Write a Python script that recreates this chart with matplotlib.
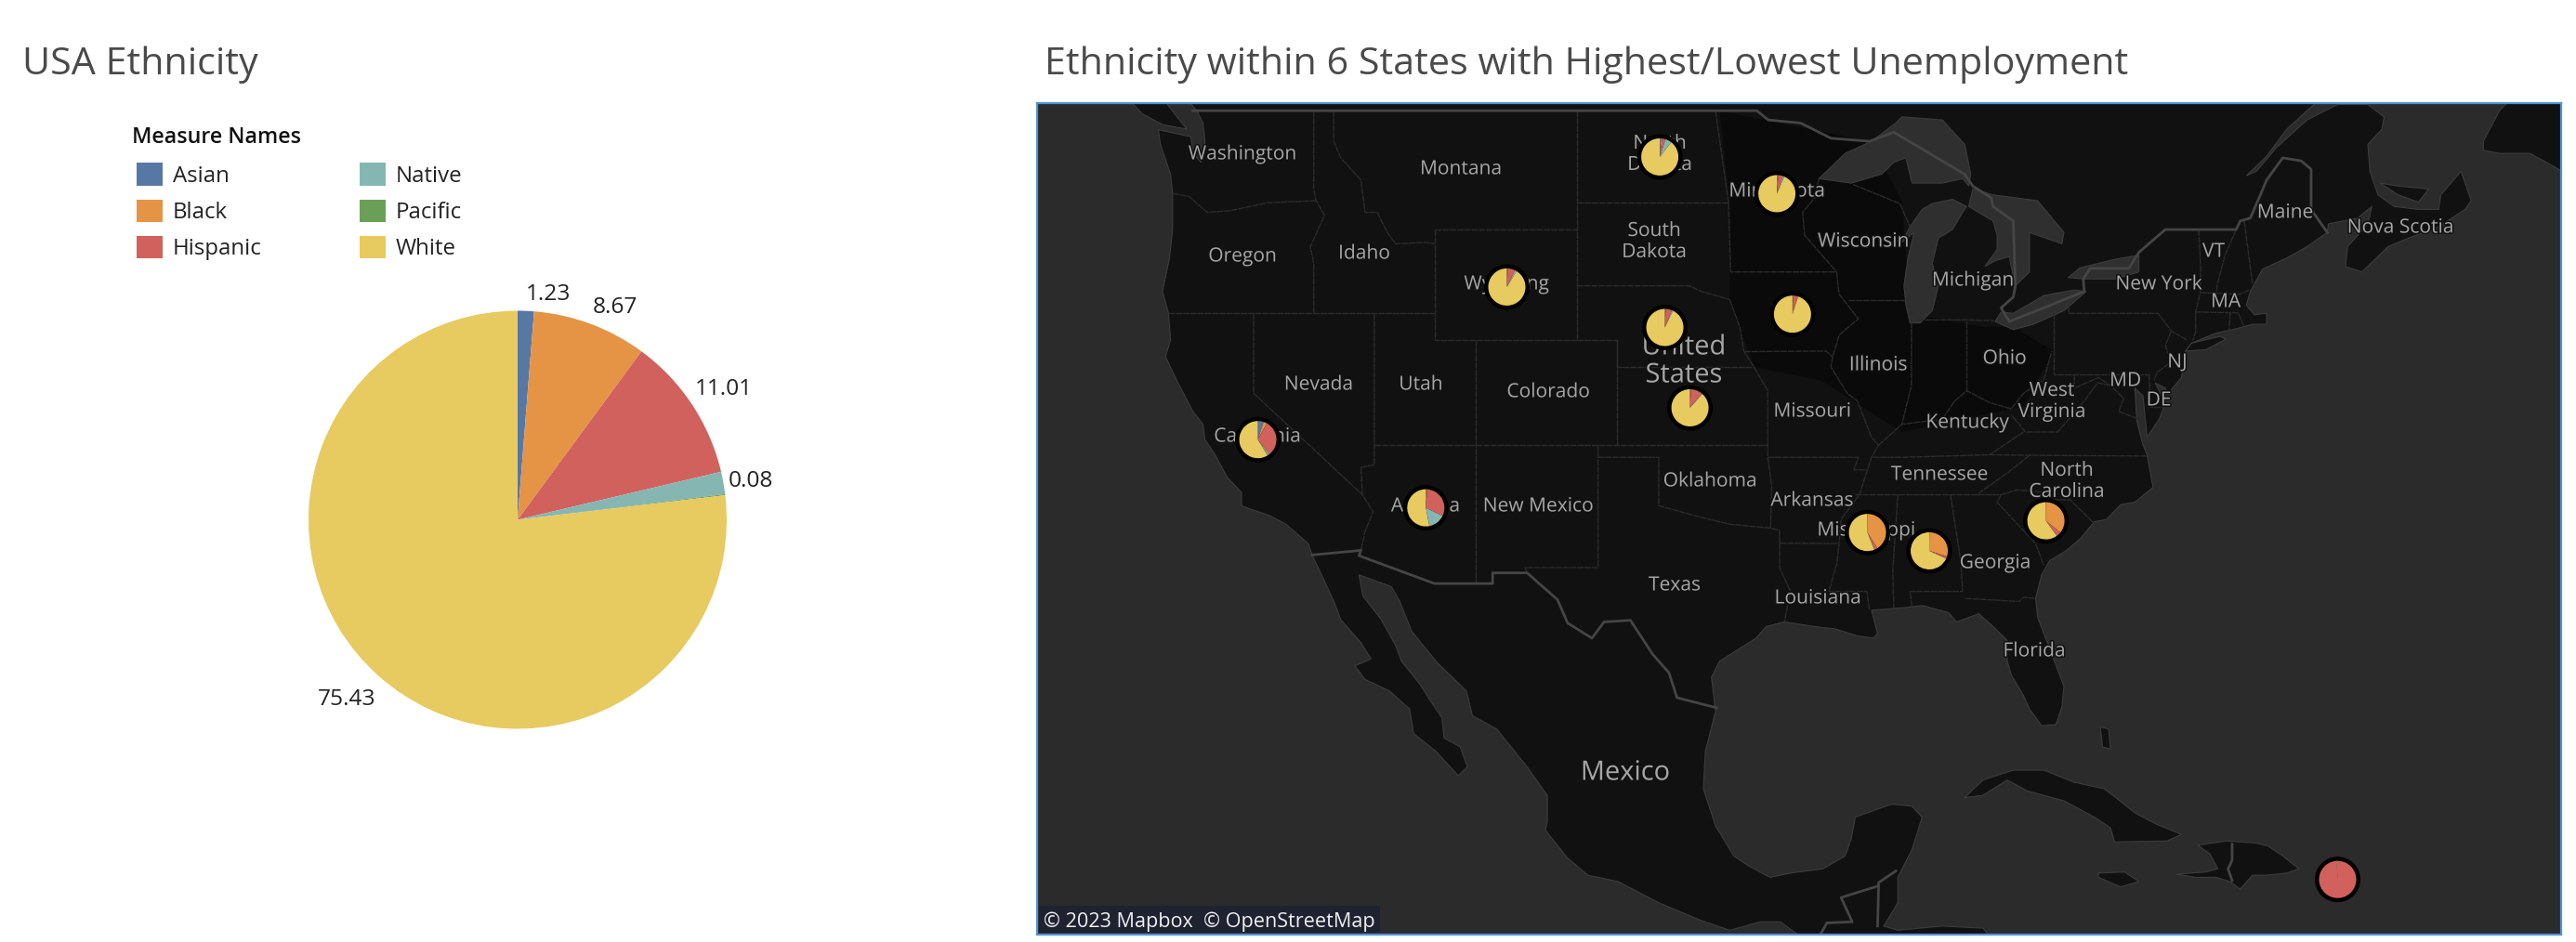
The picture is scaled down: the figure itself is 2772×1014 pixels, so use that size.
import numpy as np
import matplotlib
matplotlib.use("Agg")
import matplotlib.pyplot as plt
from matplotlib.patches import Polygon, Patch, Circle, Rectangle
from matplotlib.transforms import Affine2D
import matplotlib.patheffects as pe

# ---------- data ----------
measures = ["Asian", "Black", "Hispanic", "Native", "Pacific", "White"]
usa_share = [1.23, 8.67, 11.01, 1.7, 0.08, 75.43]
usa_labels = ["1.23", "8.67", "11.01", "0.08", "75.43"]

state_names = ["North Dakota", "Minnesota", "Wyoming", "Nebraska", "Iowa", "Kansas", "California",
               "Arizona", "Mississippi", "Alabama", "South Carolina", "Puerto Rico"]
state_lon = [-99.95, -94.17, -107.5, -99.7, -93.4, -98.46, -119.79, -111.5, -89.7, -86.65, -80.89, -66.49]
state_lat = [47.48, 46.24, 42.96, 41.48, 41.97, 38.44, 37.2, 34.47, 33.46, 32.7, 33.94, 18.1]
asian = [1.0, 0.3, 0.3, 0.2, 0.2, 0.3, 5.0, 0.1, 0.1, 0.1, 0.2, 0.05]
black = [1.0, 1.0, 0.5, 0.5, 0.5, 0.6, 3.0, 1.0, 41.0, 29.7, 35.7, 0.05]
hispanic = [3.0, 4.0, 6.5, 5.5, 4.0, 10.0, 31.4, 31.0, 2.5, 1.9, 4.0, 99.0]
native = [5.5, 1.3, 1.5, 1.0, 0.2, 0.7, 1.5, 14.7, 0.4, 0.2, 0.2, 0.05]
pacific = [0.0, 0.0, 0.0, 0.0, 0.0, 0.0, 0.3, 0.1, 0.0, 0.0, 0.0, 0.0]
white = [89.5, 93.4, 91.2, 92.8, 95.1, 88.4, 58.8, 53.1, 56.0, 68.1, 59.9, 0.85]

land = [(-123.2, 50), (-123.2, 49.3), (-122.8, 49.0), (-122.5, 48.6), (-122.4, 48.0), (-122.6, 47.3), (-123.0, 47.6),
        (-123.1, 48.15), (-124.7, 48.38), (-124.6, 47.9), (-124.1, 46.9), (-124.0, 46.25), (-124.0, 45), (-124.15, 44),
        (-124.5, 42.8), (-124.2, 42), (-124.1, 41), (-124.35, 40.4), (-123.8, 39.5), (-123.0, 38.3), (-122.5, 37.8),
        (-122.4, 37.2), (-121.9, 36.6), (-121.3, 35.7), (-120.6, 35.1), (-120.6, 34.55), (-119.2, 34.15), (-118.4, 33.8),
        (-117.3, 33), (-117.1, 32.5), (-116.7, 31.8), (-116, 30.5), (-115.7, 29.8), (-114.7, 28.8), (-114.2, 28.1),
        (-115, 27.8), (-114.5, 27.2), (-113.3, 26.7), (-112.3, 25.9), (-112.1, 24.8), (-111, 24), (-109.9, 22.9),
        (-109.45, 23.3), (-109.8, 24.2), (-110.6, 24.6), (-110.7, 25.5), (-111.3, 26.3), (-111.8, 27), (-112.7, 28),
        (-113, 28.7), (-113.7, 29.8), (-114.6, 30.8), (-114.8, 31.7), (-113.2, 31.2), (-112.8, 30.6), (-112.2, 29.3),
        (-110.9, 27.9), (-109.5, 26.7), (-109.2, 25.6), (-108, 25), (-106.5, 23.3), (-105.5, 22), (-105.5, 20.8),
        (-105.6, 20.4), (-104.5, 19.1), (-103.5, 18.3), (-102, 18), (-100, 17), (-98, 16.2), (-96.5, 15.7), (-95, 16.1),
        (-94, 16.1), (-93, 15.4), (-92, 14.5), (-85, 14), (-83.2, 14.9), (-84, 15.8), (-86, 15.9), (-88.2, 15.7),
        (-88.9, 15.9), (-88.2, 17), (-88.2, 18.2), (-87.5, 19.5), (-87, 21), (-87.5, 21.5), (-88.5, 21.6), (-90.3, 21),
        (-90.5, 20), (-90.8, 19.2), (-91.9, 18.6), (-93.5, 18.4), (-94.5, 18.2), (-95.5, 18.7), (-96.3, 19.2),
        (-97.2, 20.6), (-97.8, 22.3), (-97.7, 24), (-97.2, 25.8), (-97.4, 27.3), (-97, 28), (-95.2, 29), (-94.7, 29.5),
        (-93.8, 29.7), (-92.3, 29.5), (-91.3, 29.4), (-90.2, 29.1), (-89.4, 29), (-89.2, 29.2), (-89.5, 30.2), (-88, 30.3),
        (-87, 30.4), (-85.7, 30.1), (-85.3, 29.7), (-84.2, 30.05), (-83.5, 29.5), (-82.8, 28.9), (-82.8, 28), (-82.6, 27.4),
        (-82, 26.5), (-81.7, 25.9), (-81.1, 25.15), (-80.4, 25.2), (-80.1, 26), (-80, 26.9), (-80.6, 28.3), (-81.3, 29.9),
        (-81.4, 30.7), (-81.1, 31.7), (-80.7, 32.3), (-79.9, 32.7), (-79.2, 33.2), (-78.5, 33.9), (-77.9, 34), (-77.2, 34.6),
        (-76.5, 34.7), (-75.6, 35.3), (-75.9, 36.6), (-76.1, 37), (-76.4, 37.9), (-76.5, 39.2), (-76.1, 38.9), (-75.9, 37.3),
        (-75.3, 38), (-75.05, 38.5), (-75.1, 38.8), (-75.5, 39.4), (-75, 39.2), (-74.9, 38.95), (-74.2, 39.6), (-74, 40.4),
        (-74, 40.6), (-73.7, 40.9), (-72.5, 41.27), (-71.4, 41.45), (-70.7, 41.6), (-70.0, 41.6), (-70, 42), (-70.6, 41.95),
        (-71, 42.3), (-70.8, 42.8), (-70.2, 43.6), (-69, 44), (-68, 44.4), (-67, 44.9), (-66.95, 45.2), (-65.5, 45.4),
        (-64.8, 45.8), (-65, 45.2), (-66, 44.4), (-66.1, 43.7), (-65.3, 43.5), (-64, 44.4), (-63, 44.7), (-61.5, 45.1),
        (-60.2, 45.7), (-59.9, 46), (-60.4, 47.0), (-61.4, 46.2), (-61.5, 45.7), (-62.5, 45.7), (-63.7, 45.8), (-64.5, 46.2),
        (-64.9, 47), (-65, 47.9), (-64.3, 48.4), (-64.2, 48.8), (-65, 49.2), (-66.5, 49.2), (-68, 48.7), (-69.5, 47.8),
        (-70.5, 47), (-71, 46.85), (-70, 47.5), (-69, 48.4), (-67.5, 49.3), (-67, 50)]
newfoundland = [(-59.3, 47.7), (-58.5, 47.6), (-57, 47.6), (-55.4, 47), (-54, 47), (-54, 50), (-57, 50), (-58.5, 49), (-59.3, 48)]
pei = [(-64.4, 46.6), (-63.5, 46.5), (-62, 46.4), (-62.5, 45.95), (-63.5, 46.2)]
vancouver_island = [(-123.3, 48.4), (-124.5, 48.55), (-125.5, 48.9), (-126.2, 49.4), (-124.5, 49.4)]
long_island = [(-74, 40.6), (-73.7, 40.9), (-72.3, 41.15), (-72, 41.05), (-73, 40.65)]
cuba = [(-84.9, 21.9), (-84, 22.7), (-82.5, 23.15), (-81, 23.15), (-79.5, 22.6), (-78, 22.3), (-76.5, 21.2), (-75.5, 20.7),
        (-74.2, 20.2), (-74.9, 19.9), (-77.5, 19.85), (-77.7, 20.5), (-78.5, 21), (-80, 21.75), (-81.8, 22.2), (-82.8, 22.7), (-84, 22)]
hispaniola = [(-74.45, 18.35), (-73, 18.45), (-72.4, 18.6), (-72.8, 19.3), (-73.4, 19.7), (-72, 19.9), (-70.5, 19.8),
              (-69.9, 19.65), (-69.2, 19.2), (-68.4, 18.6), (-69, 18.4), (-70, 18.3), (-70.7, 18.3), (-71.3, 17.65),
              (-71.8, 18), (-72.5, 18.2), (-73.5, 18.2)]
jamaica = [(-78.3, 18.4), (-77, 18.45), (-76.3, 18), (-77.2, 17.75), (-78.3, 18.2)]
puerto_rico = [(-67.2, 18.45), (-65.7, 18.4), (-65.7, 18.1), (-67.1, 18)]
andros = [(-78.2, 25.1), (-77.8, 25), (-77.7, 24.1), (-78.1, 24.2)]
islands = [newfoundland, pei, vancouver_island, long_island, cuba, hispaniola, jamaica, puerto_rico, andros]

superior = [(-92.1, 46.75), (-90.5, 46.6), (-89, 46.9), (-88.4, 47.3), (-87.8, 47.45), (-87.5, 46.6), (-86, 46.6), (-85, 46.75),
            (-84.7, 46.5), (-84.6, 46.9), (-84.9, 47.9), (-86, 48.7), (-88, 48.8), (-88.3, 48.6), (-89.5, 48), (-90.8, 47.6)]
michigan = [(-87.6, 41.65), (-87.1, 41.65), (-86.5, 42.1), (-86.2, 43), (-86.5, 43.8), (-86.2, 44.7), (-85.5, 45), (-85, 45.6),
            (-84.8, 45.8), (-85.5, 46.05), (-86.5, 45.9), (-87, 45.7), (-87.6, 45.1), (-88, 44.55), (-87.4, 44.9), (-87.7, 44),
            (-87.9, 43), (-87.8, 42.3)]
huron = [(-84.7, 45.8), (-83.5, 45.3), (-83.3, 44.8), (-83.3, 44.3), (-83.9, 43.7), (-83.4, 43.9), (-82.7, 44.05), (-82.4, 43),
         (-81.7, 43.5), (-81.7, 44.9), (-80.1, 44.5), (-80, 44.9), (-81.3, 46), (-83.5, 46.2), (-84.5, 46.4)]
erie = [(-83.4, 41.7), (-82.5, 41.4), (-81.5, 41.6), (-80, 42.1), (-78.9, 42.8), (-79.5, 42.85), (-81, 42.65), (-82.5, 42), (-83.1, 42.05)]
ontario = [(-79.8, 43.3), (-79, 43.25), (-77.5, 43.25), (-76.3, 43.5), (-76.3, 44.1), (-77.5, 43.95), (-79.2, 43.65)]
lakes = [superior, michigan, huron, erie, ontario]
midwest_dark = [(-97, 49), (-89.6, 48.0), (-88, 46), (-87.6, 42), (-84, 41.5), (-82.5, 41.5), (-80.5, 40.6), (-82, 38.5),
                (-88, 37.5), (-90, 38.5), (-92, 39.5), (-95.3, 40), (-96.5, 42.5), (-96.5, 46)]

borders_national = [
    [(-123, 49), (-95.15, 49), (-94.6, 48.7), (-93, 48.6), (-91.5, 48.1), (-89.6, 48), (-88.4, 48.3), (-84.9, 46.9), (-84.5, 46.5),
     (-83.6, 46.1), (-83.5, 45.8), (-82.5, 45.3), (-82.4, 43), (-82.5, 42.6), (-83.1, 42.2), (-82.7, 41.7), (-81, 42.2), (-79, 42.8),
     (-79.05, 43.25), (-78.7, 43.63), (-76.8, 43.63), (-76.3, 44.2), (-75, 45), (-71.5, 45), (-71.3, 45.3), (-70.8, 45.4), (-70.3, 46.2),
     (-70, 46.7), (-69.2, 47.45), (-68.3, 47.35), (-67.8, 47.07), (-67.8, 45.7), (-67.4, 45.3), (-67, 44.9)],
    [(-117.1, 32.53), (-114.7, 32.72), (-114.8, 32.5), (-111.07, 31.33), (-108.2, 31.33), (-108.2, 31.78), (-106.5, 31.78), (-105, 30.65),
     (-104.5, 29.65), (-103.3, 29), (-102.7, 29.7), (-101.4, 29.77), (-100.3, 28.3), (-99.5, 27.5), (-99.1, 26.4), (-97.15, 25.95)],
    [(-92.2, 14.5), (-92.2, 15.2), (-91.7, 16.05), (-90.45, 16.1), (-91, 17.25), (-89.15, 17.8), (-89.15, 17.95), (-88.3, 18.5)],
    [(-89.15, 17.8), (-89.2, 15.9)],
    [(-71.7, 19.75), (-71.7, 19), (-71.9, 18.6), (-71.7, 18.05)],
]
borders_state = [
    [(-124, 46.25), (-123.2, 46.15), (-122.3, 45.6), (-121.2, 45.65), (-119.3, 45.93), (-116.92, 46)],
    [(-117.03, 49), (-117.03, 46.4), (-116.92, 46), (-116.5, 45.5), (-117.2, 44.4), (-117.03, 43.8), (-117.03, 42)],
    [(-124.2, 42), (-111.05, 42)],
    [(-120, 42), (-120, 39), (-114.63, 35), (-114.1, 34.3), (-114.5, 33.5), (-114.7, 32.72)],
    [(-114.04, 42), (-114.04, 36.2), (-114.7, 36.1), (-114.63, 35)],
    [(-116.05, 49), (-116.05, 48), (-115.7, 47.45), (-114.7, 46.7), (-114.5, 45.6), (-113.9, 45.6), (-113.4, 44.9), (-113, 44.5), (-111.5, 44.55), (-111.05, 44.5)],
    [(-111.05, 45), (-104.05, 45), (-104.05, 41), (-111.05, 41), (-111.05, 45)],
    [(-104.05, 49), (-104.05, 45)],
    [(-109.05, 41), (-109.05, 31.33)],
    [(-114.04, 37), (-94.62, 37)],
    [(-102.05, 41), (-102.05, 37)],
    [(-104.05, 41), (-102.05, 41), (-102.05, 40), (-95.3, 40)],
    [(-104.05, 45.94), (-96.56, 45.94)],
    [(-104.05, 43), (-98.5, 43), (-97.9, 42.8), (-96.5, 42.5)],
    [(-97.2, 49), (-96.56, 45.94), (-96.45, 43.5), (-91.22, 43.5)],
    [(-96.5, 42.5), (-96, 41.5), (-95.8, 40.6), (-95.3, 40), (-94.62, 39.1), (-94.62, 36.5), (-94.43, 35.4), (-94.48, 33.64), (-94.04, 33.55), (-94.04, 33.02), (-91.15, 33)],
    [(-103, 36.5), (-100, 36.5), (-100, 34.56), (-98, 34.1), (-96.5, 33.8), (-94.48, 33.64)],
    [(-103, 37), (-103, 32), (-106.6, 32), (-106.5, 31.78)],
    [(-95.77, 40.58), (-91.73, 40.6), (-91.42, 40.38)],
    [(-91.22, 43.5), (-91.1, 42.7), (-90.15, 41.8), (-91.1, 41.2), (-91.42, 40.38), (-91.5, 40), (-90.7, 39), (-90.2, 38.7), (-89.5, 37.3), (-89.15, 36.98), (-89.5, 36.5), (-89.7, 36), (-90.1, 35), (-91, 34), (-91.1, 33), (-91.2, 32.2), (-91.6, 31), (-89.73, 31), (-89.6, 30.2)],
    [(-94.62, 36.5), (-90.15, 36.5), (-90.37, 36), (-89.7, 36)],
    [(-94.04, 33.02), (-94.04, 32), (-93.5, 31), (-93.8, 29.7)],
    [(-92.1, 46.75), (-92.3, 46.1), (-92.9, 45.6), (-92.8, 44.8), (-91.22, 43.5)],
    [(-90.64, 42.5), (-87.8, 42.5)],
    [(-90.4, 46.55), (-88.1, 45.9), (-87.6, 45.1)],
    [(-87.53, 41.7), (-87.53, 39.3), (-88, 37.8)],
    [(-89.15, 36.98), (-88, 37.8), (-87, 37.9), (-86, 38), (-85.4, 38.7), (-84.8, 39.1), (-83.7, 38.65), (-82.6, 38.4), (-82, 39), (-81, 39.5), (-80.6, 40.6)],
    [(-84.8, 41.7), (-84.8, 39.1)],
    [(-87.2, 41.76), (-84.8, 41.76), (-83.45, 41.73)],
    [(-80.52, 42), (-80.52, 39.72), (-75.8, 39.72)],
    [(-79.48, 39.72), (-79.48, 39.2), (-78.3, 39.6), (-77.7, 39.3), (-77.05, 38.8), (-77.3, 38.3), (-76.3, 38)],
    [(-77.7, 39.3), (-78.35, 39.4), (-78.9, 38.8), (-80.3, 37.5), (-81.9, 37.5), (-82.6, 38.17)],
    [(-82, 37.5), (-83.67, 36.6)],
    [(-75.9, 36.55), (-81.7, 36.58), (-83.67, 36.6), (-88.05, 36.5), (-89.5, 36.5)],
    [(-81.7, 36.58), (-82.6, 36), (-84.3, 35)],
    [(-90.3, 35), (-83.1, 35), (-82.3, 35.2), (-81, 35.1), (-80.8, 34.8), (-79.7, 34.8), (-78.55, 33.86)],
    [(-83.1, 35), (-83.3, 34.7), (-81.4, 33), (-81, 32.1)],
    [(-85.6, 35), (-85.1, 32.3), (-85, 31), (-87.6, 31), (-87.5, 30.3)],
    [(-84.86, 30.7), (-82.2, 30.57), (-82, 30.75), (-81.45, 30.7)],
    [(-88.2, 35), (-88.45, 31.9), (-88.4, 30.3)],
    [(-79.76, 42.27), (-79.76, 42), (-75.35, 42), (-74.7, 41.35), (-73.9, 41)],
    [(-74.7, 41.35), (-75, 40.8), (-74.7, 40.2), (-75.4, 39.8), (-75.55, 39.5)],
    [(-75.8, 39.72), (-75.7, 38.46), (-75.05, 38.45)],
    [(-73.35, 45), (-73.25, 43.6), (-73.27, 42.75), (-73.5, 42.05), (-73.5, 41.3), (-73.65, 41)],
    [(-71.5, 45), (-72.05, 44.1), (-72.45, 43), (-72.46, 42.73)],
    [(-73.27, 42.75), (-71.3, 42.7), (-70.8, 42.87)],
    [(-73.5, 42.05), (-71.4, 42.02), (-71.1, 41.5)],
    [(-71.8, 42.02), (-71.85, 41.32)],
    [(-71.1, 45.3), (-70.7, 43.1)],
]

map_labels = ["Washington", "Montana", "Oregon", "Idaho", "South\nDakota", "North\nDakota", "Minnesota", "Wyoming", "Nevada",
              "Utah", "Colorado", "California", "Arizona", "New Mexico", "Oklahoma", "Texas", "Iowa", "Missouri", "Arkansas",
              "Louisiana", "Mississippi", "Wisconsin", "Michigan", "Illinois", "Ohio", "Kentucky", "West\nVirginia", "Tennessee",
              "North\nCarolina", "Georgia", "Florida", "New York", "VT", "MA", "NJ", "MD", "DE", "Maine", "Nova Scotia"]
big_labels = ["United\nStates", "Mexico"]

# ---------- layout (pixels from top-left) ----------
W, H = 2772, 1014
DPI = 100
label_xy = [(1337, 163), (1572, 179), (1337, 273), (1468, 270), (1780, 257), (1786, 163), (1912, 203), (1621, 303), (1419, 411),
            (1529, 411), (1666, 419), (1353, 467), (1534, 542), (1655, 542), (1840, 515), (1802, 627), (1928, 334), (1950, 440), (1950, 536),
            (1956, 641), (2008, 568), (2005, 257), (2123, 299), (2021, 390), (2157, 383), (2117, 452), (2208, 429), (2087, 508),
            (2224, 515), (2147, 603), (2189, 698), (2323, 303), (2382, 268), (2395, 322), (2343, 387), (2287, 407), (2323, 428), (2459, 226), (2583, 242)]
big_label_xy = [(1812, 386), (1749, 829)]
usa_label_xy = [(590, 314), (662, 328), (779, 416), (808, 515), (373, 750)]
MAP_L, MAP_R, MAP_T, MAP_B = 1116, 2756, 111, 1006
PX_PER_DEG = 21.8
LON0 = 3965.0
M0 = 1348.0

colors = {"Asian": "#5778a4", "Black": "#e49444", "Hispanic": "#d1615d",
          "Native": "#85b6b2", "Pacific": "#6a9f58", "White": "#e7ca60"}
FONT = "Open Sans"
plt.rcParams["font.family"] = [FONT, "DejaVu Sans"]


def merc(lat):
    return np.degrees(np.log(np.tan(np.pi / 4 + np.radians(np.asarray(lat, dtype=float)) / 2)))


def project(points):
    a = np.array(points, dtype=float)
    return np.column_stack([a[:, 0], merc(a[:, 1])])


fig = plt.figure(figsize=(W / DPI, H / DPI), dpi=DPI, facecolor="white")
px = Affine2D().scale(1, -1).translate(0, H)
px_text = Affine2D().scale(1, -1).translate(0, H - 3)   # Open Sans sits high when centred


def pxfs(p):
    return p * 72 / DPI


def axes_px(l, t, r, b, **kw):
    return fig.add_axes([l / W, 1 - b / H, (r - l) / W, (b - t) / H], **kw)


# ---------- left pie ----------
PIE_CX, PIE_CY, PIE_R = 557, 559.5, 225
half = PIE_R * 1.25
ax_pie = axes_px(PIE_CX - half, PIE_CY - half, PIE_CX + half, PIE_CY + half)
wedges, _ = ax_pie.pie(usa_share, colors=[colors[m] for m in measures], startangle=90, counterclock=False)
for s, (x, y) in zip(usa_labels, usa_label_xy):
    fig.text(x, y, s, transform=px_text, ha="center", va="center", fontsize=pxfs(24.5), color="#222222")

fig.text(24, 67, "USA Ethnicity", transform=px_text, ha="left", va="center", fontsize=pxfs(41.2), color="#4a4a4a")
fig.text(1124, 67, "Ethnicity within 6 States with Highest/Lowest Unemployment", transform=px_text, ha="left", va="center",
         fontsize=pxfs(41.2), color="#4a4a4a")

fig.text(142, 145, "Measure Names", transform=px_text, ha="left", va="center", fontsize=pxfs(23.3), color="#111111", fontweight="semibold")
handles = [Patch(facecolor=colors[m], edgecolor="none", label=m) for m in measures]
ax_pie.legend(handles=handles, ncol=2, loc="upper left", bbox_to_anchor=(147, 175.5), bbox_transform=px, frameon=False,
              prop={"size": pxfs(24)}, borderpad=0, borderaxespad=0, handlelength=1.17, handleheight=1.17,
              handletextpad=0.45, labelspacing=0.55, columnspacing=4.38, labelcolor="#222222")

# ---------- map ----------
ax = axes_px(MAP_L, MAP_T, MAP_R, MAP_B, facecolor="#2b2b2b")
LAND, COAST, STATE, NATION = "#111111", "#3c3c3c", "#2b2b2b", "#454545"
ax.add_patch(Polygon(project(land), closed=True, facecolor=LAND, edgecolor=COAST, linewidth=0.8, zorder=1))
for isl in islands:
    ax.add_patch(Polygon(project(isl), closed=True, facecolor=LAND, edgecolor=COAST, linewidth=0.8, zorder=1))
ax.add_patch(Polygon(project(midwest_dark), closed=True, facecolor="#0a0a0a", edgecolor="none", zorder=1.2))
for lk in lakes:
    ax.add_patch(Polygon(project(lk), closed=True, facecolor="#2f2f2f", edgecolor=COAST, linewidth=0.8, zorder=1.5))
for b in borders_state:
    p = project(b)
    ax.plot(p[:, 0], p[:, 1], color=STATE, lw=1.0, ls=(0, (5, 0.6)), zorder=2)
for b in borders_national:
    p = project(b)
    ax.plot(p[:, 0], p[:, 1], color=NATION, lw=2.0, zorder=2.2)

halo = [pe.withStroke(linewidth=2.2, foreground="#111111")]
for s, (x, y) in zip(map_labels, label_xy):
    ax.text(x, y, s, transform=px_text, ha="center", va="center", fontsize=pxfs(21), color="#a6a6a6", zorder=3,
            path_effects=halo, linespacing=1.12, clip_on=True)
for s, (x, y) in zip(big_labels, big_label_xy):
    ax.text(x, y, s, transform=px_text, ha="center", va="center", fontsize=pxfs(29), color="#a6a6a6", zorder=3,
            path_effects=halo, linespacing=1.05, clip_on=True)

R = 20 / PX_PER_DEG
for i, name in enumerate(state_names):
    c = (state_lon[i], float(merc(state_lat[i])))
    ax.add_patch(Circle(c, 24.5 / PX_PER_DEG, facecolor="#000000", edgecolor="none", zorder=4))
    vals = [asian[i], black[i], hispanic[i], native[i], pacific[i], white[i]]
    w, _ = ax.pie(vals, colors=[colors[m] for m in measures], startangle=90, counterclock=False, center=c, radius=R, frame=True)
    for wd in w:
        wd.set_zorder(5)

ax.set_xlim((MAP_L - LON0) / PX_PER_DEG, (MAP_R - LON0) / PX_PER_DEG)
ax.set_ylim((M0 - MAP_B) / PX_PER_DEG, (M0 - MAP_T) / PX_PER_DEG)
ax.set_aspect("auto")
ax.set_xticks([])
ax.set_yticks([])
for sp in ax.spines.values():
    sp.set_color("#4e94d4")
    sp.set_linewidth(1.6)
    sp.set_zorder(10)

ax.add_patch(Rectangle((1118, 975), 367, 29, transform=px, facecolor="#1f2230", edgecolor="none", zorder=6))
ax.text(1123, 989, "© 2023 Mapbox  © OpenStreetMap", transform=px_text, ha="left", va="center", fontsize=pxfs(21.7),
        color="#f0f0f0", zorder=7)

fig.savefig("out.png", dpi=DPI, facecolor="white")
